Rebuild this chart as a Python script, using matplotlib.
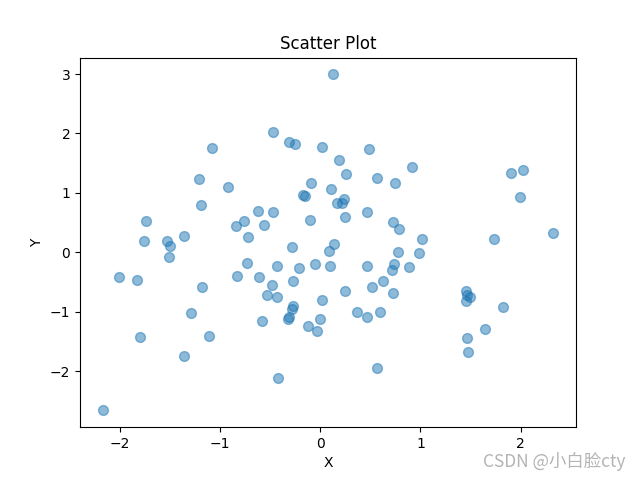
import matplotlib
matplotlib.use("Agg")
import matplotlib.pyplot as plt

x = [0.13, -0.473, -0.313, -0.25, 0.02, 0.49, -1.08, 0.187, 0.92, 0.564,
     -1.21, 0.257, -0.093, 0.747, 1.90, 2.02, -0.92, -0.17, -0.15, 0.11,
     1.99, -1.19, 0.164, 0.24, 0.212, -0.62, -0.473, 0.467, 0.25, -0.763,
     -0.563, -0.103, -1.74, 0.724, 0.79, -0.84, -0.723, -1.36, 2.327, 1.02,
     1.73, -1.76, -1.53, -1.503, 0.137, -0.286, 0.087, 0.78, 0.99, -1.513,
     -2.01, -1.83, -0.05, -0.21, 0.097, 0.464, -0.43, -0.728, -0.833, -0.613,
     -0.276, 0.63, 0.737, 0.717, 0.882, -1.18, -0.483, 0.52, 0.247, -0.536,
     -0.43, 0.73, 1.45, 1.46, 1.497, 1.457, 0.02, -0.273, -0.283, 1.82,
     -1.286, 0.364, 0.464, 0.597, -0.313, -0.323, -0.583, -0.003, -0.123, -0.03,
     1.64, -1.11, -1.803, 1.46, -1.36, 1.47, 0.567, -0.42, -2.173]
y = [2.995, 2.024, 1.855, 1.816, 1.766, 1.732, 1.749, 1.552, 1.434, 1.244,
     1.227, 1.311, 1.160, 1.160, 1.328, 1.384, 1.098, 0.963, 0.946, 1.059,
     0.929, 0.790, 0.833, 0.891, 0.828, 0.689, 0.672, 0.672, 0.593, 0.534,
     0.458, 0.537, 0.520, 0.513, 0.391, 0.436, 0.256, 0.273, 0.318, 0.226,
     0.226, 0.189, 0.189, 0.109, 0.138, 0.082, 0.015, -0.002, -0.013, -0.081,
     -0.418, -0.473, -0.199, -0.266, -0.232, -0.232, -0.232, -0.182, -0.401, -0.418,
     -0.485, -0.485, -0.199, -0.300, -0.249, -0.591, -0.552, -0.586, -0.653, -0.721,
     -0.754, -0.687, -0.658, -0.721, -0.759, -0.822, -0.805, -0.906, -0.956, -0.928,
     -1.024, -1.007, -1.096, -1.007, -1.091, -1.116, -1.158, -1.125, -1.247, -1.327,
     -1.293, -1.416, -1.428, -1.444, -1.753, -1.685, -1.949, -2.123, -2.662]

fig, ax = plt.subplots(figsize=(6.4, 4.8), dpi=100)
ax.scatter(x, y, s=50, alpha=0.5)
ax.set_title("Scatter Plot")
ax.set_xlabel("X")
ax.set_ylabel("Y")
fig.text(0.754, 0.028, "CSDN @小白脸cty", fontsize=12.5, color="#b4b4b4",
         family=["Noto Sans CJK SC", "DejaVu Sans"])
fig.savefig("out.png", dpi=100)
